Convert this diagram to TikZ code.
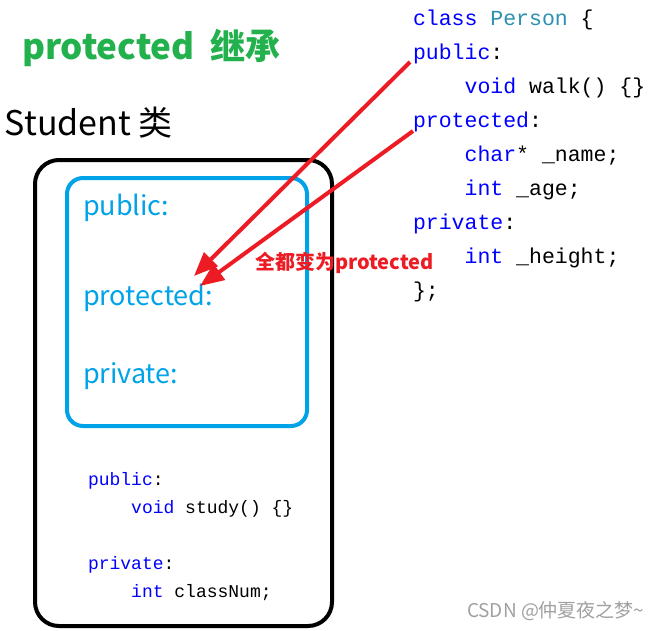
\documentclass[tikz,border=0pt]{standalone}
\usepackage{fontspec}
\usetikzlibrary{arrows.meta}
\setmainfont{Noto Sans CJK SC}
\newfontfamily\cjk{Noto Sans CJK SC}
\setmonofont{Liberation Mono}
\definecolor{tgreen}{RGB}{34,177,76}
\definecolor{tblue}{RGB}{0,162,232}
\definecolor{tred}{RGB}{237,28,36}
\definecolor{kw}{RGB}{0,0,255}
\definecolor{ty}{RGB}{43,145,175}
\definecolor{wm}{RGB}{160,160,160}
\newcommand{\kwd}[1]{\textcolor{kw}{#1}}
\begin{document}
\begin{tikzpicture}[x=1pt,y=-1pt,
  txt/.style={anchor=base west,inner sep=0pt,outer sep=0pt},
  codeA/.style={txt,font=\fontsize{21.5}{24}\ttfamily},
  codeB/.style={txt,font=\fontsize{18}{20}\ttfamily},
  lbl/.style={txt,font=\fontsize{27}{30}\selectfont,text=tblue},
  redarrow/.style={draw=tred,line width=4pt,-{Triangle[length=24pt,width=19pt]}}]
\useasboundingbox (0,0) rectangle (663,630);
% titles
\node[txt,font=\fontsize{35}{40}\selectfont\bfseries,text=tgreen] (title) at (22,59) {protected\hspace{8pt} 继承};
\node[txt,font=\fontsize{34}{38}\selectfont] (stu) at (5,135) {Student 类};
% boxes
\draw[line width=4pt,rounded corners=24pt] (35,160) rectangle (332,626);
\draw[tblue,line width=4pt,rounded corners=16pt] (67,178) rectangle (307,426);
\node[lbl] (pub) at (83,215) {public:};
\node[lbl] (prot) at (83,305) {protected:};
\node[lbl] (priv) at (83,383) {private:};
% student code
\node[codeB] (s1) at (88,485) {\kwd{public}:};
\node[codeB] (s2) at (88,513) {\phantom{xxxx}\kwd{void} study() \{\}};
\node[codeB] (s3) at (88,569) {\kwd{private}:};
\node[codeB] (s4) at (88,597) {\phantom{xxxx}\kwd{int} classNum;};
% person code
\node[codeA] (p1) at (413,25) {\kwd{class} \textcolor{ty}{Person} \{};
\node[codeA] (p2) at (413,59) {\kwd{public}:};
\node[codeA] (p3) at (413,93) {\phantom{xxxx}\kwd{void} walk() \{\}};
\node[codeA] (p4) at (413,127) {\kwd{protected}:};
\node[codeA] (p5) at (413,161) {\phantom{xxxx}\kwd{char}* \_name;};
\node[codeA] (p6) at (413,195) {\phantom{xxxx}\kwd{int} \_age;};
\node[codeA] (p7) at (413,229) {\kwd{private}:};
\node[codeA] (p8) at (413,263) {\phantom{xxxx}\kwd{int} \_height;};
\node[codeA] (p9) at (413,297) {\};};
% red label
\node[txt,font=\fontsize{20}{22}\selectfont\bfseries,text=tred] (note) at (255,269) {全都变为protected};
% arrows
\coordinate (a1s) at (410,62);
\coordinate (a1e) at (194,276);
\coordinate (a2s) at (413,131);
\coordinate (a2e) at (200,286);
\draw[redarrow] (a1s) -- (a1e);
\draw[redarrow] (a2s) -- (a2e);
% watermark
\node[txt,font=\fontsize{19}{22}\selectfont,text=wm] (wmk) at (467,617) {CSDN @仲夏夜之梦\textasciitilde};
\end{tikzpicture}
\end{document}
